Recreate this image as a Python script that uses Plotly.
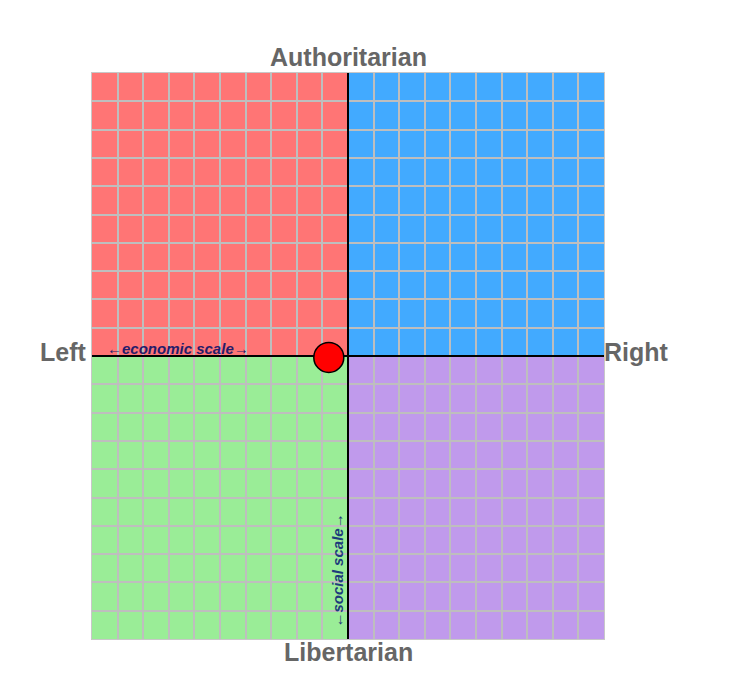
import plotly.graph_objects as go

# compass quadrants: (name, x range, y range, colour)
quadrant_names = ["auth_left", "auth_right", "lib_left", "lib_right"]
quadrant_x = [(-10, 0), (0, 10), (-10, 0), (0, 10)]
quadrant_y = [(0, 10), (0, 10), (-10, 0), (-10, 0)]
quadrant_colors = ["#ff7575", "#42aaff", "#9aed97", "#c09aec"]

# the result point
economic = [-0.75]
social = [-0.05]

FONT = "Liberation Sans, Arial, sans-serif"
LABEL_GREY = "#666666"

fig = go.Figure()

fig.add_trace(go.Scatter(
    x=economic, y=social,
    mode="markers",
    marker=dict(size=30, color="#ff0000", line=dict(width=1.5, color="#000000")),
    hoverinfo="skip",
    showlegend=False,
))

for name, xr, yr, col in zip(quadrant_names, quadrant_x, quadrant_y, quadrant_colors):
    fig.add_shape(type="rect", xref="x", yref="y",
                  x0=xr[0], x1=xr[1], y0=yr[0], y1=yr[1],
                  fillcolor=col, line_width=0, layer="below", name=name)

# axis labels around the compass
fig.add_annotation(text="<b>Authoritarian</b>", xref="paper", yref="paper",
                   x=0.5, y=1.0, yanchor="bottom", yshift=0, showarrow=False,
                   font=dict(family=FONT, size=25, color=LABEL_GREY))
fig.add_annotation(text="<b>Libertarian</b>", xref="paper", yref="paper",
                   x=0.5, y=0.0, yanchor="top", yshift=3, showarrow=False,
                   font=dict(family=FONT, size=25, color=LABEL_GREY))
fig.add_annotation(text="<b>Left</b>", xref="paper", yref="paper",
                   x=0.0, y=0.5, xanchor="right", xshift=-3, yshift=4, showarrow=False,
                   font=dict(family=FONT, size=25, color=LABEL_GREY))
fig.add_annotation(text="<b>Right</b>", xref="paper", yref="paper",
                   x=1.0, y=0.5, xanchor="left", xshift=-2, yshift=4, showarrow=False,
                   font=dict(family=FONT, size=25, color=LABEL_GREY))

# scale hints along the axes
fig.add_annotation(text="<b><i>←economic scale→</i></b>", x=-9.5, y=0,
                   xanchor="left", yanchor="bottom", yshift=-3, showarrow=False,
                   font=dict(family=FONT, size=15, color="#261c6a"))
fig.add_annotation(text="<b><i>←social scale→</i></b>", x=0, y=-7.6,
                   xanchor="right", xshift=0, textangle=-90, showarrow=False,
                   font=dict(family=FONT, size=15, color="#1d3c7c"))

axis_common = dict(
    range=[-10, 10],
    dtick=1,
    showticklabels=False,
    ticks="",
    showgrid=True,
    gridcolor="#bebebe",
    gridwidth=1.5,
    zeroline=True,
    zerolinecolor="#000000",
    zerolinewidth=2,
    showline=True,
    mirror=True,
    linecolor="#c8c8c8",
    linewidth=1,
    fixedrange=True,
)

fig.update_layout(
    width=755, height=693,
    margin=dict(l=84, r=159, t=65, b=62),
    paper_bgcolor="#ffffff",
    plot_bgcolor="#ffffff",
    xaxis=axis_common,
    yaxis=axis_common,
)

fig.write_html("out.html")
